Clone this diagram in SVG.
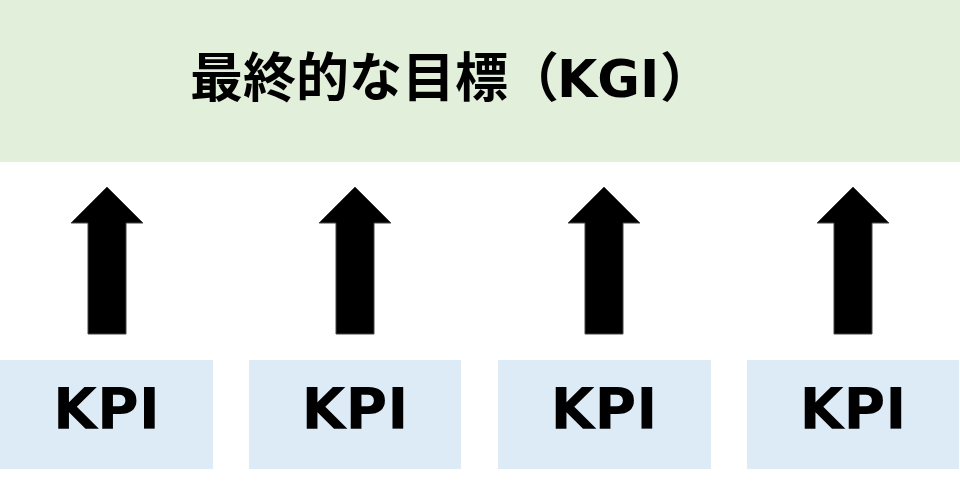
<svg xmlns="http://www.w3.org/2000/svg" width="960" height="484" viewBox="0 0 960 484">
<style>
.kgi{fill:#E2EFDA}
.kpi{fill:#DDEBF7}
.t{font-family:"DejaVu Sans","Noto Sans CJK JP",sans-serif;font-weight:bold;fill:#000}
.cjk{font-family:"Noto Sans CJK JP",sans-serif;font-weight:bold}
.arrow{fill:#000;stroke:#444;stroke-width:1}
</style>
<defs>
<path id="arr" d="M0,0 L36,36 L19,36 L19,147 L-19,147 L-19,36 L-36,36 Z"/>
</defs>
<g id="kgi">
<rect class="kgi" x="0" y="0" width="960" height="162"/>
<text class="t" y="97" font-size="53"><tspan class="cjk" x="190">最終的な目標</tspan><tspan class="cjk" x="506">（</tspan><tspan x="557" font-size="52">KGI</tspan><tspan class="cjk" x="660">）</tspan></text>
</g>
<g id="connectors">
<use href="#arr" class="arrow" x="107" y="187"/>
<use href="#arr" class="arrow" x="355" y="187"/>
<use href="#arr" class="arrow" x="604" y="187"/>
<use href="#arr" class="arrow" x="853" y="187"/>
</g>
<g id="kpi1"><rect class="kpi" x="0" y="360" width="213" height="109"/><text class="t" x="106.5" y="429" font-size="57" text-anchor="middle">KPI</text></g>
<g id="kpi2"><rect class="kpi" x="249" y="360" width="212" height="109"/><text class="t" x="355" y="429" font-size="57" text-anchor="middle">KPI</text></g>
<g id="kpi3"><rect class="kpi" x="498" y="360" width="213" height="109"/><text class="t" x="604" y="429" font-size="57" text-anchor="middle">KPI</text></g>
<g id="kpi4"><rect class="kpi" x="747" y="360" width="212" height="109"/><text class="t" x="853" y="429" font-size="57" text-anchor="middle">KPI</text></g>
</svg>
